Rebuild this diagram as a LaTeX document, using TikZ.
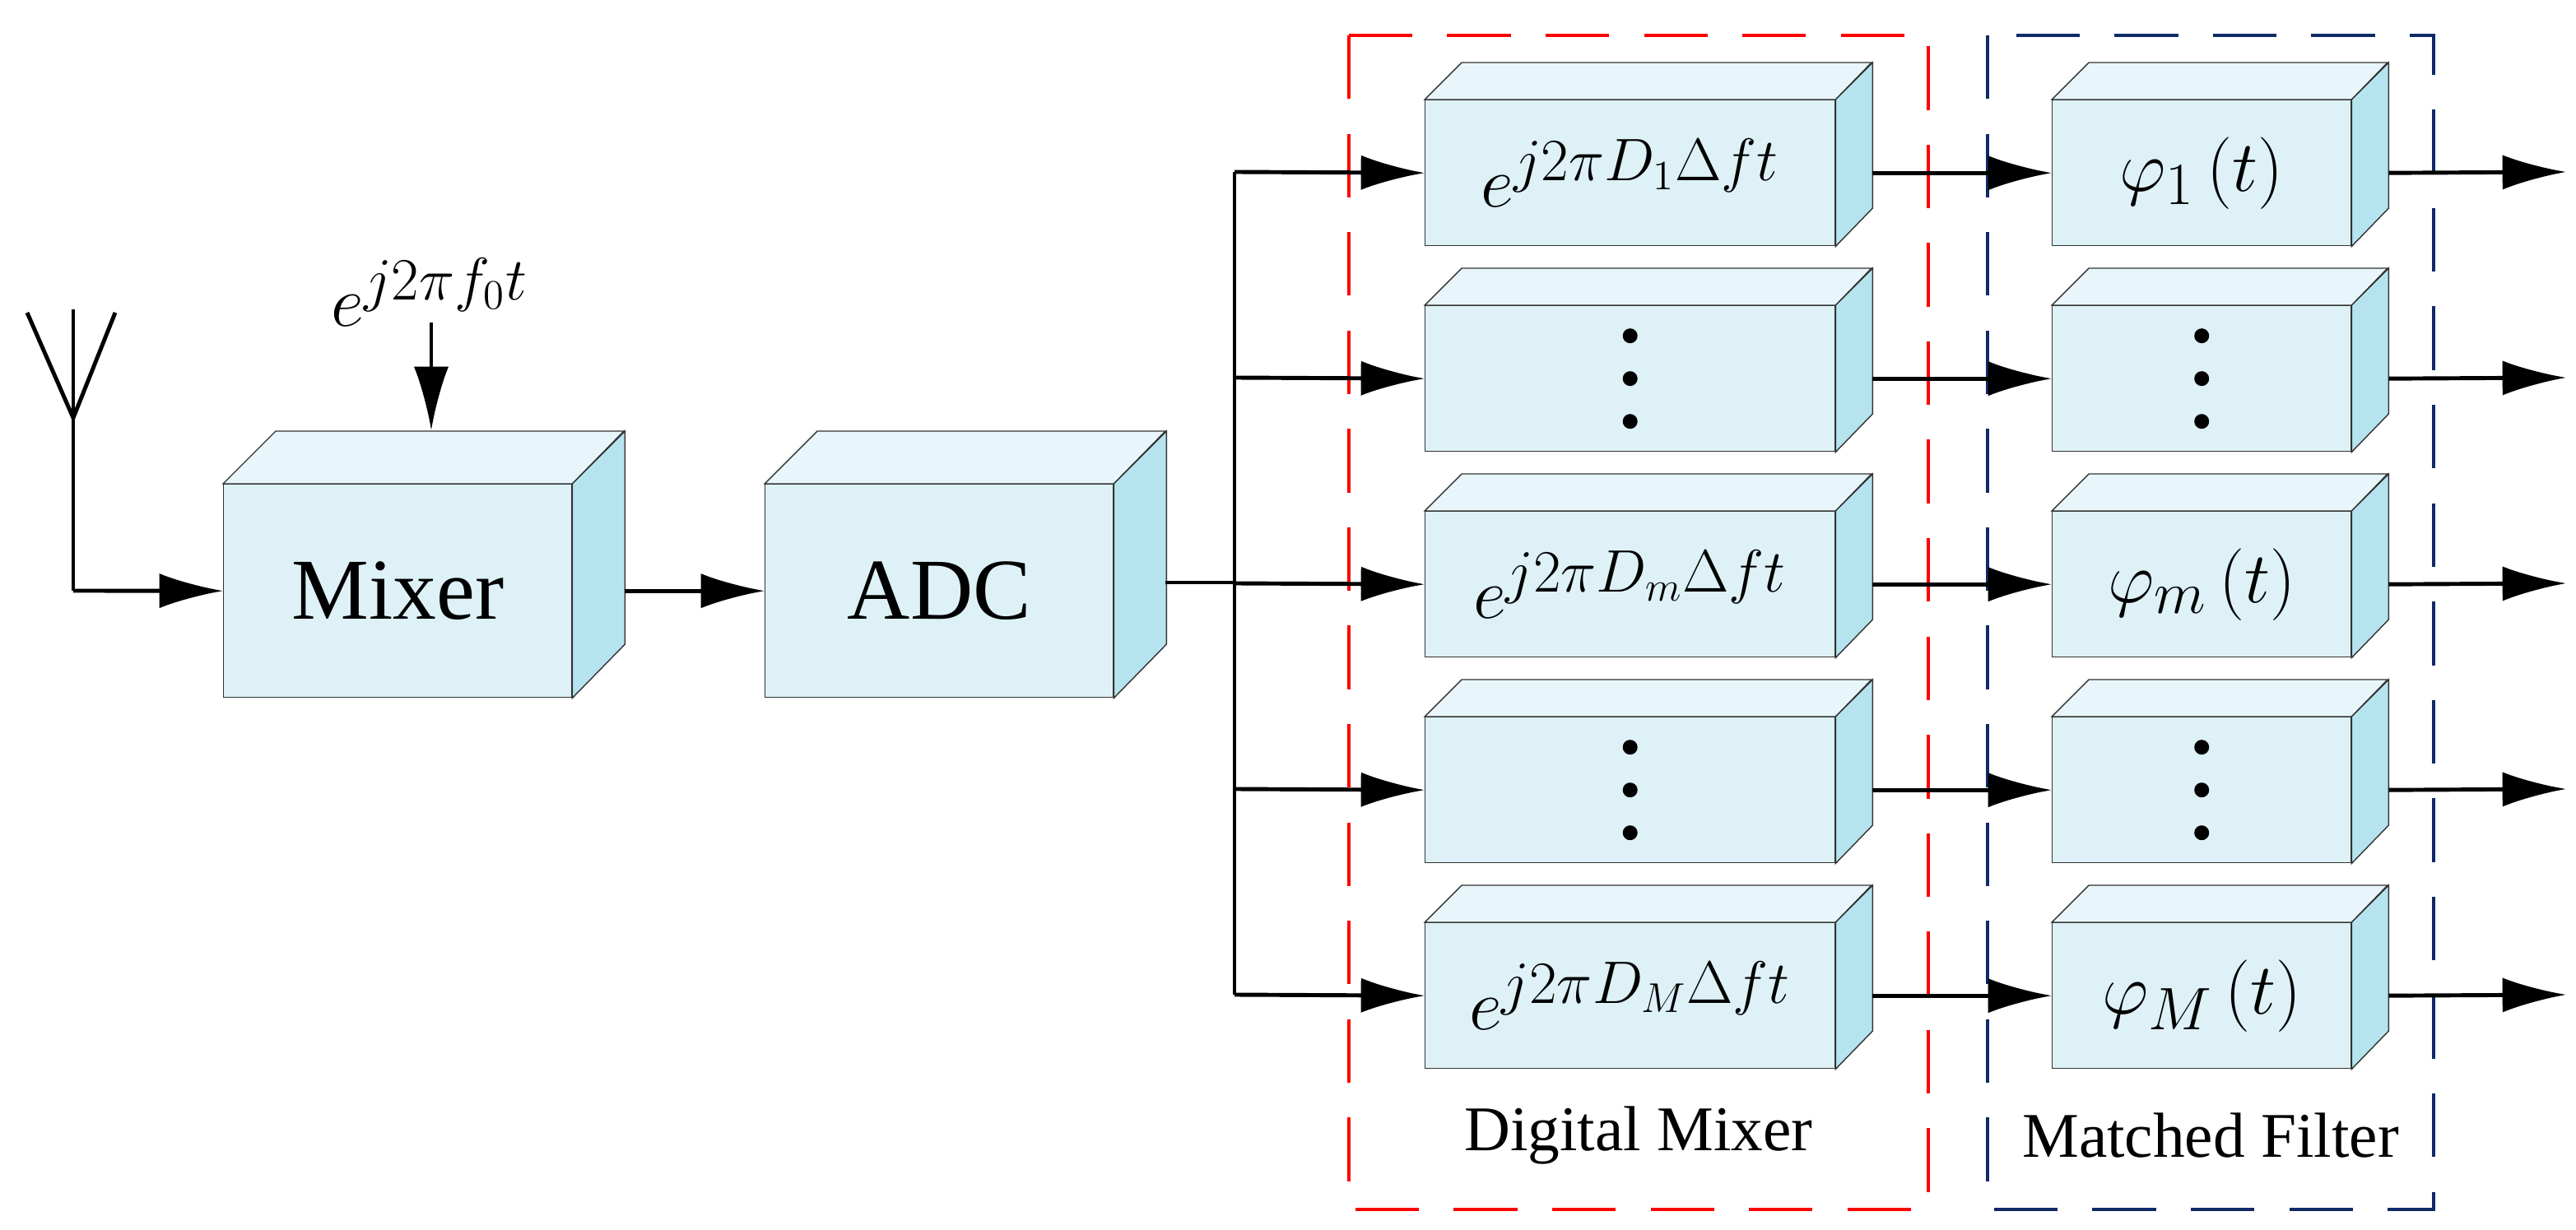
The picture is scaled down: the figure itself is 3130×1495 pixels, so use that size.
\documentclass[tikz,border=0pt]{standalone}
\usepackage{fontspec}
\setmainfont{Liberation Serif}
\usetikzlibrary{arrows.meta}
\definecolor{cfront}{HTML}{DDF1F7}
\definecolor{ctop}{HTML}{E8F6FB}
\definecolor{cside}{HTML}{B5E3EE}
\definecolor{navy}{HTML}{0F2A66}
\tikzset{
  front/.style={draw=black!80, thin, fill=cfront, inner sep=0pt, anchor=north west},
  arr/.style={-{Latex[length=22pt,width=12pt]}, line width=1.4pt},
  ln/.style={line width=1.4pt},
  dot/.style={circle, fill=black, inner sep=0pt, minimum size=0.18cm},
}
% \cube{name}{x}{y}{w}{h}{depth}{text}
\newcommand{\cube}[7]{%
  \node[front, minimum width=#4*0.01cm, minimum height=#5*0.01cm] (#1) at (#2,#3) {#7};
  \filldraw[draw=black!80, thin, fill=ctop] (#1.north west) -- ++(#6,-#6) -- ++(#4,0) -- (#1.north east) -- cycle;
  \filldraw[draw=black!80, thin, fill=cside] (#1.north east) -- ++(#6,-#6) -- ++(0,#5) -- (#1.south east) -- cycle;
  \coordinate (#1-out) at ($(#1.east)+(#6,0)$);
}
\usetikzlibrary{calc}
\newcommand{\vdotsbox}[1]{%
  \node[dot] at ($(#1.center)+(0,-52)$) {};
  \node[dot] at (#1.center) {};
  \node[dot] at ($(#1.center)+(0,52)$) {};
}
\begin{document}
\begin{tikzpicture}[x=0.01cm, y=-0.01cm]
\useasboundingbox (0,0) rectangle (3130,1495);
% dashed groups
\draw[red, line width=1.3pt, dash pattern=on 22pt off 12pt] (1639,43) rectangle (2343,1470);
\draw[navy, line width=1.3pt, dash pattern=on 22pt off 12pt] (2415,43) rectangle (2957,1470);
\node[font=\fontsize{22}{26}\selectfont] (ldm) at (1991,1380) {Digital Mixer};
\node[font=\fontsize{22}{26}\selectfont] (lmf) at (2686,1380) {Matched Filter};
% antenna
\coordinate (ant) at (89,508);
\coordinate (antt) at (89,376);
\coordinate (antl) at (33,380);
\coordinate (antr) at (140,380);
\draw[ln] (antl) -- (ant) -- (antr);
\draw[ln] (antt) -- (ant);
% mixer and ADC
\cube{mix}{271}{588}{423}{259}{64}{\fontsize{30}{36}\selectfont Mixer}
\cube{adc}{929}{588}{423}{259}{64}{\fontsize{30}{36}\selectfont ADC}
\coordinate (antb) at (89,718);
\draw[ln] (ant) -- (antb);
\draw[arr] (antb) -- (mix.west);
\node[font=\fontsize{30}{36}\selectfont] (lo) at (522,355) {$e^{j2\pi f_0 t}$};
\coordinate (lotop) at (524,392);
\draw[arr] (lotop) -- (524,523);
\draw[arr] (mix-out) -- (adc.west);
% bus
\coordinate (b0) at (1416,708);
\coordinate (b1) at (1500,708);
\coordinate (btop) at (1500,209);
\coordinate (bbot) at (1500,1209);
\draw[ln] (b0) -- (b1);
\draw[ln] (btop) -- (bbot);
% rows
\foreach \i/\c in {1/209,2/459,3/709,4/959,5/1209}{
  \cube{dm\i}{1731}{\c-88}{498}{177}{45}{}
  \cube{mf\i}{2493}{\c-88}{363}{177}{45}{}
  \coordinate (bus\i) at (1500,\c);
  \coordinate (out\i) at (3118,\c);
  \draw[arr] (bus\i) -- (dm\i.west);
  \draw[arr] (dm\i-out) -- (mf\i.west);
  \draw[arr] (mf\i-out) -- (out\i);
}
\node[font=\fontsize{28}{34}\selectfont] at (dm1.center) {$e^{j2\pi D_1\Delta ft}$};
\node[font=\fontsize{28}{34}\selectfont] at (dm3.center) {$e^{j2\pi D_m\Delta ft}$};
\node[font=\fontsize{28}{34}\selectfont] at (dm5.center) {$e^{j2\pi D_M\Delta ft}$};
\node[font=\fontsize{28}{34}\selectfont] at (mf1.center) {$\varphi_1\left(t\right)$};
\node[font=\fontsize{28}{34}\selectfont] at (mf3.center) {$\varphi_m\left(t\right)$};
\node[font=\fontsize{28}{34}\selectfont] at (mf5.center) {$\varphi_M\left(t\right)$};
\vdotsbox{dm2}\vdotsbox{dm4}\vdotsbox{mf2}\vdotsbox{mf4}
\end{tikzpicture}
\end{document}
